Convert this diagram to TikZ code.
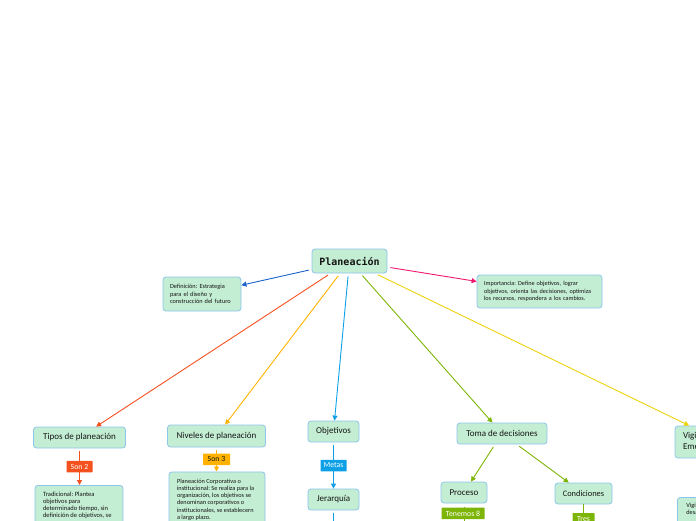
\documentclass[tikz,border=0pt]{standalone}
\usepackage{fontspec}
\setmainfont{Carlito}
\newfontfamily\monof{DejaVu Sans Mono}
\usetikzlibrary{arrows.meta}
\definecolor{bf}{HTML}{C4EED3}
\definecolor{bd}{HTML}{8CC6EC}
\definecolor{tx}{HTML}{141414}
\definecolor{cdef}{HTML}{1A62CC}
\definecolor{cpink}{HTML}{F0186E}
\definecolor{corange}{HTML}{F4511E}
\definecolor{camber}{HTML}{FFB300}
\definecolor{csky}{HTML}{0EA0E6}
\definecolor{cgreen}{HTML}{7DB506}
\definecolor{cyellow}{HTML}{EDD30E}
\begin{document}
\frenchspacing
\begin{tikzpicture}[x=1pt,y=-1pt,
  box/.style={draw=bd, fill=bf, rounded corners=3pt, line width=0.8pt, text=tx, inner sep=0pt},
  head/.style={box, font=\fontsize{9}{10}\selectfont},
  con/.style={line width=0.9pt, -{Triangle[length=5pt,width=5pt]}, shorten <=3pt},
  tag/.style={rounded corners=0.5pt, text=white, font=\fontsize{7.8}{8}\selectfont, inner sep=0pt, minimum height=11.5pt}]
\useasboundingbox (0,0) rectangle (696,520);
\clip (0,0) rectangle (696,520);

% nodes
\node[box, minimum width=75pt, minimum height=24pt, font=\monof\bfseries\fontsize{10}{12}\selectfont] (plan) at (349.5,261) {Planeación};
\node[box, text width=64pt, inner xsep=7pt, minimum height=34pt, align=left, font=\fontsize{6.3}{7.5}\selectfont] (def) at (202,294) {Definición: Estrategia\\para el diseño y\\construcción del futuro};
\node[box, text width=111pt, inner xsep=7pt, minimum height=33pt, align=left, font=\fontsize{6.2}{7.5}\selectfont] (imp) at (539.5,291.5) {Importancia: Define objetivos, lograr\\objetivos, orienta las decisiones, optimiza\\los recursos, respondera a los cambios.};

\node[head, minimum width=92pt, minimum height=21pt] (tipos) at (79.5,437.5) {Tipos de planeación};
\node[head, minimum width=98pt, minimum height=22pt] (niv) at (216.5,436) {Niveles de planeación};
\node[head, minimum width=51pt, minimum height=21pt] (obj) at (333.5,431.5) {Objetivos};
\node[head, minimum width=51pt, minimum height=21pt] (jer) at (333.5,499.5) {Jerarquía};
\node[head, minimum width=90pt, minimum height=21pt] (toma) at (502,433.5) {Toma de decisiones};
\node[head, minimum width=46pt, minimum height=21pt] (proc) at (464,492.5) {Proceso};
\node[head, minimum width=57pt, minimum height=21pt, font=\fontsize{8.4}{9}\selectfont] (cond) at (583.5,493.5) {Condiciones};
\node[box, text width=80pt, inner xsep=8pt, minimum height=32pt, align=left, font=\fontsize{9}{11}\selectfont] (vig) at (723,442) {Vigilancia\\Emergente};

\node[box, anchor=north, inner xsep=8pt, inner ysep=7pt, font=\fontsize{6.5}{7}\selectfont] (trad) at (79,485)
  {\parbox[t][80pt][t]{72pt}{\raggedright Tradicional: Plantea\\objetivos para\\determinado tiempo, sin\\definición de objetivos, se}};
\node[box, anchor=north, inner xsep=8pt, inner ysep=7pt, font=\fontsize{6.3}{7.2}\selectfont] (corp) at (217,471.5)
  {\parbox[t][80pt][t]{80pt}{\raggedright Planeación Corporativa o\\institucional: Se realiza para la\\organización, los objetivos se\\denominan corporativos o\\institucionales, se establecern\\a largo plazo.}};
\node[box, anchor=north west, inner xsep=9pt, inner ysep=6pt, font=\fontsize{6.3}{7.2}\selectfont] (vigb) at (677,497)
  {\parbox[t][60pt][t]{70pt}{\raggedright Vigilancia\\desarrollo}};

\coordinate (jerdown) at (333.5,540);
\coordinate (procdown) at (464,540);
\coordinate (conddown) at (583.5,540);

% connectors from Planeación
\draw[con, cdef] (plan) -- (def);
\draw[con, cpink] (plan) -- (imp);
\draw[con, corange] (plan) -- (tipos);
\draw[con, camber] (plan) -- (niv);
\draw[con, csky] (plan) -- (obj);
\draw[con, cgreen] (plan) -- (toma);
\draw[con, cyellow] (plan) -- (vig);

% second level
\draw[con, corange] (tipos.south) -- (tipos.south |- trad.north)
  node[midway, tag, fill=corange, minimum width=26pt] (son2) {Son 2};
\draw[con, camber] (niv.south) -- (niv.south |- corp.north)
  node[midway, tag, fill=camber, text=tx, minimum width=27pt] (son3) {Son 3};
\draw[con, csky] (obj) -- (jer)
  node[midway, tag, fill=csky, minimum width=26pt] (metas) {Metas};
\draw[line width=0.9pt, csky, shorten <=3pt] (jer) -- (jerdown);
\draw[con, cgreen] (toma) -- (proc);
\draw[con, cgreen] (toma) -- (cond);
\draw[line width=0.9pt, cgreen, shorten <=4pt] (proc) -- (procdown);
\node[tag, fill=cgreen, minimum width=43pt, anchor=north] (ten8) at (463,507.5) {Tenemos 8};
\draw[line width=0.9pt, cgreen] (cond) -- (conddown);
\node[tag, fill=cgreen, minimum width=22pt, anchor=north] (tres) at (583.5,513) {Tres};
\end{tikzpicture}
\end{document}
